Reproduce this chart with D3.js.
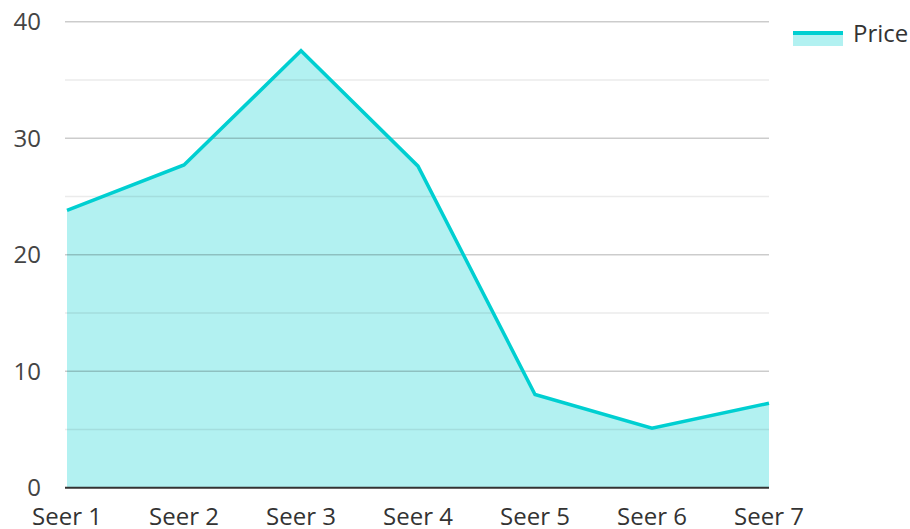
<!DOCTYPE html>
<html>
<head>
<meta charset="utf-8">
<script src="https://cdn.jsdelivr.net/npm/d3@7"></script>
<style>
  body { margin: 0; background: #fff; }
  text { font-family: "Open Sans", "Noto Sans", sans-serif; }
</style>
</head>
<body>
<div id="chart"></div>
<script>
// data
var categories = ["Seer 1", "Seer 2", "Seer 3", "Seer 4", "Seer 5", "Seer 6", "Seer 7"];
var prices = [23.8, 27.7, 37.5, 27.6, 8, 5.1, 7.25];
var yTicks = [0, 10, 20, 30, 40];
var yMinorTicks = [5, 15, 25, 35];
var seriesName = "Price";

var lineColor = "#00cfd1";
var areaColor = "rgba(0, 207, 209, 0.3)";

var width = 910, height = 529;
var margin = {top: 21.7, right: 141, bottom: 41.3, left: 65};

var svg = d3.select("#chart")
    .append("svg")
    .attr("width", width)
    .attr("height", height);

var x = d3.scalePoint()
    .domain(categories)
    .range([margin.left + 2, width - margin.right]);

var y = d3.scaleLinear()
    .domain([0, 40])
    .range([height - margin.bottom, margin.top]);

var data = categories.map(function(c, i) { return {cat: c, val: prices[i]}; });

// area
svg.append("path")
    .datum(data)
    .attr("fill", areaColor)
    .attr("d", d3.area()
        .x(function(d) { return x(d.cat); })
        .y0(y(0))
        .y1(function(d) { return y(d.val); }));

// gridlines (drawn over the area, semi transparent)
svg.append("g")
    .selectAll("line")
    .data(yMinorTicks)
    .enter()
    .append("line")
        .attr("x1", margin.left)
        .attr("x2", width - margin.right)
        .attr("y1", function(d) { return y(d); })
        .attr("y2", function(d) { return y(d); })
        .attr("stroke", "rgba(0,0,0,0.08)")
        .attr("stroke-width", 1.5);

svg.append("g")
    .selectAll("line")
    .data(yTicks.filter(function(d) { return d > 0; }))
    .enter()
    .append("line")
        .attr("x1", margin.left)
        .attr("x2", width - margin.right)
        .attr("y1", function(d) { return y(d); })
        .attr("y2", function(d) { return y(d); })
        .attr("stroke", "rgba(0,0,0,0.2)")
        .attr("stroke-width", 1.5);

// line
svg.append("path")
    .datum(data)
    .attr("fill", "none")
    .attr("stroke", lineColor)
    .attr("stroke-width", 3.5)
    .attr("stroke-linejoin", "miter")
    .attr("d", d3.line()
        .x(function(d) { return x(d.cat); })
        .y(function(d) { return y(d.val); }));

// baseline
svg.append("line")
    .attr("x1", margin.left)
    .attr("x2", width - margin.right)
    .attr("y1", y(0))
    .attr("y2", y(0))
    .attr("stroke", "#333")
    .attr("stroke-width", 2);

// y labels
svg.append("g")
    .selectAll("text")
    .data(yTicks)
    .enter()
    .append("text")
        .attr("x", 41)
        .attr("y", function(d) { return y(d); })
        .attr("dy", "0.36em")
        .attr("text-anchor", "end")
        .attr("fill", "#444")
        .style("font-size", "24px")
        .text(function(d) { return d; });

// x labels
svg.append("g")
    .selectAll("text")
    .data(categories)
    .enter()
    .append("text")
        .attr("x", function(d) { return x(d); })
        .attr("y", 525)
        .attr("text-anchor", "middle")
        .attr("fill", "#333")
        .style("font-size", "24px")
        .text(function(d) { return d; });

// legend
var legend = svg.append("g").attr("transform", "translate(793,31)");
legend.append("rect")
    .attr("x", 0).attr("y", 3)
    .attr("width", 50).attr("height", 12)
    .attr("fill", areaColor);
legend.append("rect")
    .attr("x", 0).attr("y", 0)
    .attr("width", 50).attr("height", 4)
    .attr("fill", lineColor);
legend.append("text")
    .attr("x", 60)
    .attr("y", 11)
    .attr("fill", "#333")
    .style("font-size", "24px")
    .text(seriesName);
</script>
</body>
</html>
